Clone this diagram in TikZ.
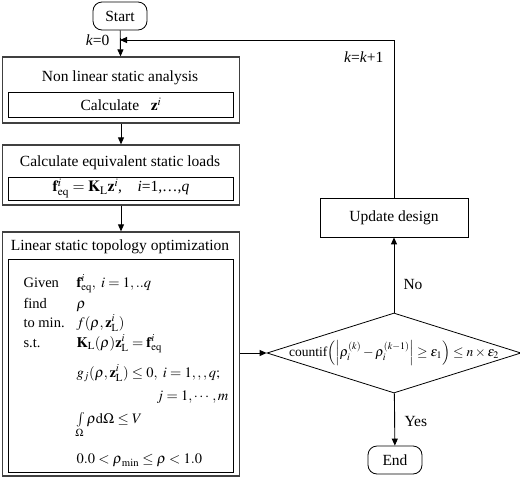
\RequirePackage{fix-cm}
\documentclass[tikz,border=0pt]{standalone}
\usepackage{amsmath}
\usepackage{mathptmx}
\usepackage{fontspec}
\setmainfont{Liberation Serif}
\usetikzlibrary{shapes.geometric,arrows.meta}
\newcommand{\bvec}[1]{\mathbf{#1}}
\newcommand{\brho}{\boldsymbol{\rho}}

\begin{document}
\begin{tikzpicture}[x=1pt, y=-1pt, font=\fontsize{15.5}{18}\selectfont,
  outerbox/.style={draw=black!75, line width=1.3pt, minimum width=237pt},
  innerbox/.style={draw, line width=0.9pt, minimum width=225pt},
  termbox/.style={draw, line width=0.8pt, rounded corners=9pt, minimum width=54pt, minimum height=28pt, inner sep=0pt},
  formtext/.style={anchor=base west, font=\fontsize{14.5}{17}\selectfont},
  flow/.style={line width=0.9pt, -{Triangle[length=7pt,width=6pt]}}]
  \useasboundingbox (0,0) rectangle (520,480);
  % left column
  \node [termbox] (start) at (120,16) {Start};
  \node [outerbox, minimum height=66pt] (ana) at (121,90) {};
  \node (anatitle) at (120,78) {Non linear static analysis};
  \node [innerbox, minimum height=25pt] (calcz) at (121,104.5) {Calculate \enspace$\bvec{z}^{i}$};
  \node [outerbox, minimum height=60pt] (loads) at (121,175) {};
  \node (loadstitle) at (120,163) {Calculate equivalent static loads};
  \node [innerbox, minimum height=23pt, inner sep=0pt] (feq) at (121,188.5) {$\bvec{f}^{i}_{\mathrm{eq}}=\bvec{K}_{\mathrm{L}}\bvec{z}^{i}$,\quad \textit{i}=1,\ldots,\textit{q}};
  \node [outerbox, minimum height=244pt] (topo) at (121,354) {};
  \node (topotitle) at (120,247) {Linear static topology optimization};
  \node [innerbox, minimum height=213pt] (form) at (121,365.5) {};
  % formulation
  \node [formtext] (given) at (20,287) {Given};
  \node [formtext] (find) at (20,308) {find};
  \node [formtext] (tomin) at (20,327) {to min.};
  \node [formtext] (st) at (20,347) {s.t.};
  \node [formtext] (givenm) at (73,287) {$\bvec{f}^{i}_{\mathrm{eq}},\ i=1,..q$};
  \node [formtext] (findm) at (73,308) {$\brho$};
  \node [formtext] (tominm) at (73,327) {$f(\brho,\bvec{z}^{i}_{\mathrm{L}})$};
  \node [formtext] (stm) at (73,347) {$\bvec{K}_{\mathrm{L}}(\brho)\bvec{z}^{i}_{\mathrm{L}}=\bvec{f}^{i}_{\mathrm{eq}}$};
  \node [formtext] (gm) at (73,377) {$g_j(\brho,\bvec{z}^{i}_{\mathrm{L}})\leq 0,\ i=1,,,q;$};
  \node [formtext, anchor=base east] (jm) at (232,400) {$j=1,\cdots,m$};
  \node [formtext] (intm) at (73,423) {$\int\limits_{\Omega}\brho\mathrm{d}\Omega\leq V$};
  \node [formtext] (boundm) at (73,463) {$0.0<\brho_{\min}\leq\brho<1.0$};
  % right column
  \node [draw, line width=0.8pt, minimum width=148pt, minimum height=39pt] (upd) at (394,217.5) {Update design};
  \node [draw, line width=0.8pt, diamond, minimum width=254pt, minimum height=80pt, inner sep=0pt,
    label={[name=checktxt, font=\fontsize{13.5}{16}\selectfont]center:countif$\left(\left|\rho_i^{(k)}-\rho_i^{(k-1)}\right|\geq\varepsilon_1\right)\leq n\times\varepsilon_2$}] (check) at (394,353) {};
  \node [termbox] (end) at (395,460) {End};
  \coordinate (merge) at (120,40);
  % connectors
  \draw [flow] (start) -- (ana);
  \draw [flow] (ana) -- (loads);
  \draw [flow] (loads) -- (topo);
  \draw [flow] (check.west -| topo.east) -- (check.west);
  \draw [flow] (check) -- (upd);
  \draw [flow] (check) -- (end);
  \draw [flow] (upd.north) |- (merge);
  \node [anchor=east] (kzero) at (113,40) {\textit{k}=0};
  \node [anchor=east] (kinc) at (387,57) {\textit{k}=\textit{k}+1};
  \node [anchor=west] (no) at (400,284) {No};
  \node [anchor=west] (yes) at (401,421) {Yes};
\end{tikzpicture}
\end{document}
